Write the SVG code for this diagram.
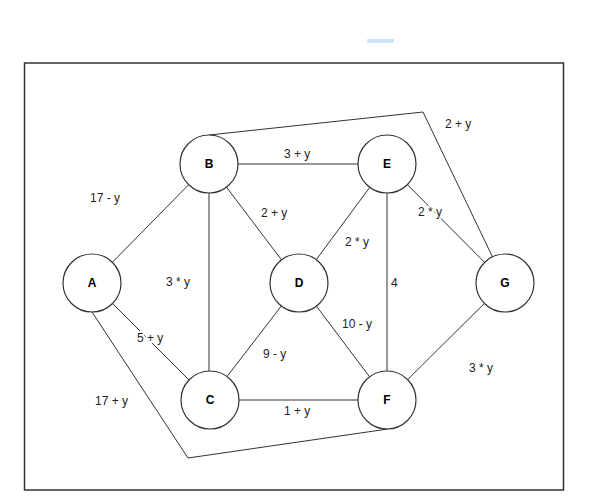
<svg xmlns="http://www.w3.org/2000/svg" width="604" height="498" viewBox="0 0 604 498">
<style>
.n circle{fill:#fff;stroke:#333;stroke-width:1.2}
.n text{font-family:"Liberation Sans",Arial,sans-serif;font-size:12px;font-weight:bold;text-anchor:middle;fill:#000}
#edges line,#edges polyline{stroke:#333;stroke-width:1;fill:none}
.l{font-family:"Liberation Sans",Arial,sans-serif;font-size:12px;fill:#222;stroke:#fff;stroke-width:4;paint-order:stroke;stroke-linejoin:round}
</style>
<rect width="604" height="498" fill="#fff"/>
<rect x="367" y="39" width="27" height="4" fill="#cfe2ff"/>
<rect x="24.5" y="63" width="539" height="427" fill="none" stroke="#333" stroke-width="1.5"/>
<g id="edges">
<line x1="92" y1="283" x2="209" y2="164"/>
<line x1="92" y1="283" x2="209" y2="400"/>
<polyline points="92,312 188,458 388,429"/>
<polyline points="209,135 423,112 505,283"/>
<line x1="209" y1="164" x2="387" y2="164"/>
<line x1="209" y1="164" x2="209" y2="400"/>
<line x1="209" y1="164" x2="299" y2="283"/>
<line x1="387" y1="164" x2="299" y2="283"/>
<line x1="387" y1="164" x2="387" y2="400"/>
<line x1="387" y1="164" x2="505" y2="283"/>
<line x1="299" y1="283" x2="209" y2="400"/>
<line x1="299" y1="283" x2="387" y2="400"/>
<line x1="209" y1="400" x2="387" y2="400"/>
<line x1="387" y1="400" x2="505" y2="283"/>
</g>
<g id="A" class="n"><circle cx="92" cy="283" r="29"/><text x="92" y="287">A</text></g>
<g id="B" class="n"><circle cx="209" cy="164" r="29"/><text x="209" y="168">B</text></g>
<g id="C" class="n"><circle cx="210" cy="400" r="29"/><text x="210" y="404">C</text></g>
<g id="D" class="n"><circle cx="299" cy="283" r="29"/><text x="299" y="287">D</text></g>
<g id="E" class="n"><circle cx="387" cy="164" r="29"/><text x="387" y="168">E</text></g>
<g id="F" class="n"><circle cx="387" cy="400" r="29"/><text x="387" y="404">F</text></g>
<g id="G" class="n"><circle cx="505" cy="283" r="29"/><text x="505" y="287">G</text></g>
<g id="labels" class="l">
<text x="90" y="202">17 - y</text>
<text x="137" y="342">5 + y</text>
<text x="95" y="405">17 + y</text>
<text x="445" y="128">2 + y</text>
<text x="284" y="158">3 + y</text>
<text x="166" y="286">3 * y</text>
<text x="261" y="217">2 + y</text>
<text x="345" y="246">2 * y</text>
<text x="391" y="287">4</text>
<text x="418" y="216">2 * y</text>
<text x="263" y="358">9 - y</text>
<text x="342" y="328">10 - y</text>
<text x="284" y="415">1 + y</text>
<text x="469" y="372">3 * y</text>
</g>
</svg>
